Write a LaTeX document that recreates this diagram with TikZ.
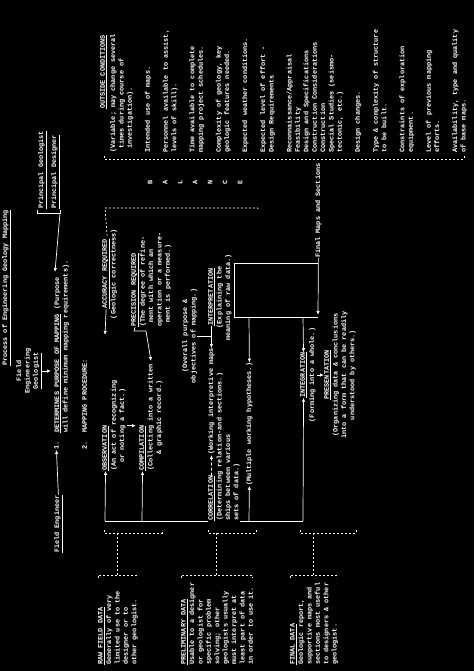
\documentclass[tikz,border=0pt]{standalone}
\usepackage{fontspec}
\setmonofont{Liberation Mono}
\usetikzlibrary{calc,arrows.meta,positioning}

\tikzset{
	txt/.style={text=white, font=\ttfamily\bfseries\fontsize{6.83}{8.4}\selectfont, inner sep=0pt, anchor=north west, align=left},
	ln/.style={draw=white, line width=0.7pt},
	arr/.style={ln, -{Latex[length=4pt,width=3.5pt]}},
	dsh/.style={draw=white, line width=0.7pt, dash pattern=on 2pt off 2pt},
}

\begin{document}
\begin{tikzpicture}[x=1pt, y=1pt]
		%%%%% START %%%%%
		\fill[black] (0,0) rectangle (474,671);
		\useasboundingbox (0,0) rectangle (474,671);

		\begin{scope}[rotate=90, transform shape]
		% heading
		\node[txt, anchor=north] (title) at (383,-2) {\underline{Process of Engineering Geology Mapping}};
		\node[txt, anchor=north, align=center] (geo) at (300,-16) {Field\\Engineering\\\underline{Geologist}};
		\node[txt] (fe) at (118,-54) {\underline{Field Engineer}};
		\node[txt] (one) at (221,-54) {1.};
		\node[txt] (purp) at (238,-54) {\underline{DETERMINES PURPOSE OF MAPPING} (Purpose\\will define minimum mapping requirements).};
		\node[txt] (pg) at (462,-38) {\underline{Principal Geologist}};
		\node[txt] (pd) at (462,-51) {\underline{Principal Designer}};
		\node[txt] (two) at (221,-82) {2.};
		\node[txt] (proc) at (238,-82) {MAPPING PROCEDURE:};

		\coordinate (gtip) at (300,-51);
		\coordinate (bt) at (458,-37);
		\coordinate (bb) at (458,-60);
		\coordinate (pend) at (399,-55);
		\draw[arr] (geo.south) -- (gtip);
		\draw[arr] (fe.east) -- (one.west);
		\draw[ln] ($(bt)+(3,0)$) -- (bt) -- (bb) -- ($(bb)+(3,0)$);
		\draw[arr] (bb) -- (pend);

		% procedure
		\node[txt] (obs) at (200,-102) {\underline{OBSERVATION}};
		\node[txt, align=center] (obsx) at (200,-110.5) {(An act of recognizing\\or noting a fact.)};
		\node[txt] (comp) at (200,-139) {\underline{COMPILATION}};
		\node[txt, align=center] (compx) at (200,-147.5) {(Collecting into a written\\\& graphic record.)};
		\node[txt] (corr) at (150,-208) {\underline{CORRELATION}};
		\node[txt] (corrx) at (150,-216.5) {(Determining relation-\\ships between various\\sets of data.)};
		\node[txt] (work) at (216,-208) {(Working interpretive maps};
		\node[txt, anchor=north] (worky) at (269.5,-216.5) {and sections.)};
		\node[txt] (interp) at (345,-208) {\underline{INTERPRETATION}};
		\node[txt, anchor=north, align=center] (interpx) at (373.5,-216.5) {(Explaining the\\meaning of raw data.)};
		\node[txt, anchor=north, align=center] (overall) at (335,-182) {(Overall purpose \&\\objectives of mapping.)};
		\node[txt, anchor=north] (acc) at (397,-102) {\underline{ACCURACY REQUIRED}};
		\node[txt, anchor=north] (accx) at (397,-110.5) {(Geologic correctness)};
		\node[txt] (prec) at (344,-131) {\underline{PRECISION REQUIRED}};
		\node[txt] (precx) at (344,-139.5) {(The degree of refine-\\\phantom{(}ment with which an\\operation or a measure-\\\phantom{(}ment is performed.)};
		\node[txt] (hyp) at (185,-246) {(Multiple working hypotheses.)};
		\node[txt, anchor=north] (integ) at (296,-300) {\underline{INTEGRATION}};
		\node[txt, anchor=north] (integx) at (296,-309) {(Forming into a whole.)};
		\node[txt, anchor=north] (pres) at (296,-324) {\underline{PRESENTATION}};
		\node[txt, anchor=north, align=center] (presx) at (296,-332.5) {(Organizing data \& conclusions\\into a form that can be readily\\understood by others.)};
		\node[txt] (maps) at (413,-315) {Final Maps and Sections};

		\coordinate (lt) at (150,-105);
		\coordinate (lm) at (150,-142);
		\coordinate (lb1) at (150,-240);
		\coordinate (lb2) at (150,-249);
		\coordinate (lb3) at (150,-303);
		\coordinate (ov) at (335,-211);
		\coordinate (acctip) at (336,-105);
		\coordinate (pc1) at (340,-134);
		\coordinate (pc2) at (340,-146);
		\coordinate (pc3) at (310,-151);
		\coordinate (rl1) at (354,-234);
		\coordinate (rl2) at (354,-249);
		\coordinate (rl3) at (354,-303);
		\coordinate (rl4) at (354,-318);
		\coordinate (rr1) at (408,-234);
		\coordinate (rr2) at (408,-318);

		\draw[ln] (corr.north west) -- (lt);
		\draw[arr] (lt) -- (obs.west);
		\draw[arr] (lm) -- (comp.west);
		\draw[arr] ($(obsx.south)+(0,-1)$) -- ($(obsx.south)+(0,-10)$);
		\draw[arr, dash pattern=on 3pt off 2pt] (corr.east) -- (work.west);
		\draw[arr] (interp.west) -- (work.east);
		\draw[ln] (overall.south) -- (ov);
		\draw[arr] (acc.west) -- (acctip);
		\draw[arr] (prec.west) -- (pc1) -- (pc2) -- (pc3);
		\draw[ln] (lb1) -- (lb3);
		\draw[arr] (lb2) -- (hyp.west);
		\draw[arr] (lb3) -- (integ.west);
		\draw[ln] (rl4) -- (rl1) -- (rr1) -- (rr2);
		\draw[arr] (rl2) -- (hyp.east);
		\draw[arr] (rl3) -- (integ.east);
		\draw[arr] (maps.west) -- ($(rl4)+(2,0)$);
		\draw[arr] ($(integx.south)+(0,-1)$) -- (pres.north);

		% data kinds
		\node[txt] (raw) at (6,-98) {\underline{RAW FIELD DATA}\\Generally of very\\limited use to the\\designer or to\\other geologist.};
		\node[txt] (prelim) at (6,-181) {\underline{PRELIMINARY DATA}\\Usable to a designer\\or geologist for\\specific problem\\solving; other\\geologists usually\\must interpret at\\least part of data\\in order to use it.};
		\node[txt] (final) at (6,-290) {\underline{FINAL DATA}\\Geologic report,\\supportive maps and\\sections most useful\\to designers \& other\\geologist.};

		\draw[dsh] (93,-98) -- (96,-98) -- (96,-136) -- (93,-136);
		\draw[dsh] (96,-117) -- (138,-117);
		\draw[dsh] (141,-104) -- (138,-104) -- (138,-162) -- (141,-162);
		\draw[dsh] (93,-181) -- (96,-181) -- (96,-252) -- (93,-252);
		\draw[dsh] (96,-216) -- (138,-216);
		\draw[dsh] (141,-208) -- (138,-208) -- (138,-256) -- (141,-256);
		\draw[dsh] (93,-290) -- (96,-290) -- (96,-336) -- (93,-336);
		\draw[dsh] (96,-313) -- (138,-313);
		\draw[dsh] (141,-300) -- (138,-300) -- (138,-356) -- (141,-356);

		% balance
		\draw[dsh] ($(acc.east)+(3,-1)$) -- (463,-105) -- (463,-258) -- (460,-258);
		\draw[dsh] (515,-104) -- (512,-104) -- (512,-464) -- (515,-464);
		\node[txt, anchor=center] (b1) at (489,-150) {B};
		\node[txt, anchor=center] (b2) at (489,-165) {A};
		\node[txt, anchor=center] (b3) at (489,-180) {L};
		\node[txt, anchor=center] (b4) at (489,-195) {A};
		\node[txt, anchor=center] (b5) at (489,-210) {N};
		\node[txt, anchor=center] (b6) at (489,-225) {C};
		\node[txt, anchor=center] (b7) at (489,-240) {E};

		% outside conditions
		\node[txt] (out) at (562,-100) {\underline{OUTSIDE CONDITIONS}};
		\node[txt] (cond) at (518,-110) {(Variable; may change several\\\phantom{(}times during course of\\\phantom{(}investigation).\\[9.6pt]
			Intended use of maps.\\[9.6pt]
			Personnel available to assist,\\levels of skill).\\[9.6pt]
			Time available to complete\\mapping project schedules.\\[9.6pt]
			Complexity of geology, key\\geologic features needed.\\[9.6pt]
			Expected weather conditions.\\[9.6pt]
			Expected level of effort -\\Design Requirements\\[9.6pt]
			Reconnaissance/Appraisal\\Feasibility\\Design and Specifications\\Construction Considerations\\Construction\\Special Studies (seismo-\\tectonic, etc.)\\[9.6pt]
			Design changes.\\[9.6pt]
			Type \& complexity of structure\\to be built.\\[9.6pt]
			Constraints of exploration\\equipment.\\[9.6pt]
			Level of previous mapping\\efforts.\\[9.6pt]
			Availability, type and quality\\of base maps.};
		\end{scope}
		%%%%% END %%%%%
\end{tikzpicture}
\end{document}
